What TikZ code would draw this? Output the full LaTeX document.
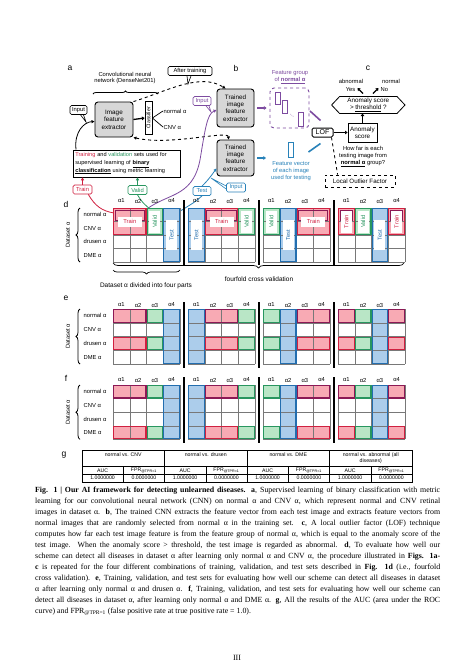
\documentclass[tikz,border=0pt]{standalone}
\usepackage{fontspec}
\setmainfont{Liberation Sans}
\newfontfamily\capserif{Liberation Serif}
\usetikzlibrary{decorations.pathreplacing,arrows.meta}
\definecolor{tred}{RGB}{208,32,64}
\definecolor{tmag}{RGB}{140,25,85}
\definecolor{tpink}{RGB}{248,170,180}
\definecolor{tgreen}{RGB}{40,150,95}
\definecolor{tlgreen}{RGB}{185,230,198}
\definecolor{tblue}{RGB}{35,110,175}
\definecolor{tlblue}{RGB}{172,205,235}
\definecolor{tpurple}{RGB}{125,75,160}
\definecolor{ttest}{RGB}{40,130,185}
\definecolor{tgray}{RGB}{215,215,215}
\definecolor{gridc}{RGB}{120,120,120}

\newcommand\bfillx[7]{\fill[#6] ({113+75*#1+16.75*(#2-1)},{\gy+\gh*(#4-1)}) rectangle ++({16.75*#3},{\gh*#5});}
\newcommand\bdrawx[7]{\draw[#7,line width=1.2pt] ({113+75*#1+16.75*(#2-1)+0.6},{\gy+\gh*(#4-1)+0.6}) rectangle ++({16.75*#3-1.2},{\gh*#5-1.2});}
\newcommand\mdraw[3]{\draw[tmag,line width=1pt] ({113+75*#1+16.75*(#2-1)+2.2},{\gy+2.2}) rectangle ++({16.75*#3-4.4},{\gh-3});}
\newcommand\gridlines{\foreach \ff in {0,1,2,3}{\foreach \cc in {0,...,4}{\draw[gridc,line width=0.5pt] ({113+75*\ff+16.75*\cc},\gy) -- ++(0,{4*\gh});}\foreach \rr in {0,...,4}{\draw[gridc,line width=0.5pt] ({113+75*\ff},{\gy+\gh*\rr}) -- ++(67,0);}}}
\newcommand\alphas[1]{\foreach \ff in {0,1,2,3}{\foreach \cc in {1,...,4}{\node[lbl] at ({113+75*\ff+16.75*(\cc-0.5)},#1) {α\cc};}}}
\newcommand\seps[2]{\foreach \ff in {1,2,3}{\draw[line width=1.6pt] ({109+75*\ff},#1) -- ({109+75*\ff},#2);}}
\newcommand\rowlabels{\foreach \rr/\rname in {1/normal α,2/CNV α,3/drusen α,4/DME α}{\node[lbl,anchor=west] at (83,{\gy+\gh*(\rr-0.5)}) {\rname};}
 \draw[decorate,decoration={brace,amplitude=4pt},line width=0.8pt] (80,{\gy+4*\gh}) -- (80,\gy);
 \node[lbl,rotate=90] at (68,{\gy+2*\gh}) {Dataset α};}
\newcommand\tlab[6]{\node[dlab,#5] at ({113+75*#1+16.75*(#2-1)+8.375*#3},{\gy+\gh*#4}) {#6};}
\newcommand\efpattern[1]{%
 \blk{0}{1}{2}{1}{1}{tpink}{tmag} \blk{0}{1}{2}{#1}{1}{tpink}{tred}
 \blk{0}{3}{1}{1}{1}{tlgreen}{tgreen} \blk{0}{3}{1}{#1}{1}{tlgreen}{tgreen}
 \blk{0}{4}{1}{1}{4}{tlblue}{tblue}
 \blk{1}{1}{1}{1}{4}{tlblue}{tblue}
 \blk{1}{2}{2}{1}{1}{tpink}{tmag} \blk{1}{2}{2}{#1}{1}{tpink}{tred}
 \blk{1}{4}{1}{1}{1}{tlgreen}{tgreen} \blk{1}{4}{1}{#1}{1}{tlgreen}{tgreen}
 \blk{2}{1}{1}{1}{1}{tlgreen}{tgreen} \blk{2}{1}{1}{#1}{1}{tlgreen}{tgreen}
 \blk{2}{2}{1}{1}{4}{tlblue}{tblue}
 \blk{2}{3}{2}{1}{1}{tpink}{tmag} \blk{2}{3}{2}{#1}{1}{tpink}{tred}
 \blk{3}{1}{1}{1}{1}{tpink}{tmag} \blk{3}{1}{1}{#1}{1}{tpink}{tred}
 \blk{3}{2}{1}{1}{1}{tlgreen}{tgreen} \blk{3}{2}{1}{#1}{1}{tlgreen}{tgreen}
 \blk{3}{3}{1}{1}{4}{tlblue}{tblue}
 \blk{3}{4}{1}{1}{1}{tpink}{tmag} \blk{3}{4}{1}{#1}{1}{tpink}{tred}}
\newcommand\dpattern{%
 \blk{0}{1}{2}{1}{2}{tpink}{tred} \blk{0}{3}{1}{1}{2}{tlgreen}{tgreen} \blk{0}{4}{1}{1}{4}{tlblue}{tblue}
 \blk{1}{1}{1}{1}{4}{tlblue}{tblue} \blk{1}{2}{2}{1}{2}{tpink}{tred} \blk{1}{4}{1}{1}{2}{tlgreen}{tgreen}
 \blk{2}{1}{1}{1}{2}{tlgreen}{tgreen} \blk{2}{2}{1}{1}{4}{tlblue}{tblue} \blk{2}{3}{2}{1}{2}{tpink}{tred}
 \blk{3}{1}{1}{1}{2}{tpink}{tred} \blk{3}{2}{1}{1}{2}{tlgreen}{tgreen} \blk{3}{3}{1}{1}{4}{tlblue}{tblue} \blk{3}{4}{1}{1}{2}{tpink}{tred}}

\begin{document}
\begin{tikzpicture}[x=1pt,y=-1pt,
 lbl/.style={inner sep=0.5pt,font=\fontsize{5.8}{6.8}\selectfont},
 tlbl/.style={inner sep=0pt,font=\fontsize{5.2}{6.2}\selectfont},
 plet/.style={inner sep=0pt,font=\fontsize{8.5}{9}\selectfont},
 graybox/.style={draw,line width=0.9pt,rounded corners=3pt,fill=tgray,align=center,inner sep=1pt,font=\fontsize{6.3}{7.4}\selectfont},
 callout/.style={draw,line width=0.7pt,rounded corners=1.5pt,fill=white,inner sep=1.2pt,font=\fontsize{5.8}{6.5}\selectfont},
 arr/.style={-{Triangle[length=3pt,width=3pt]}},
 thickarr/.style={line width=1.3pt,-{Triangle[length=2.6pt,width=3.6pt]}},
 dlab/.style={fill=white,inner sep=0pt,font=\fontsize{5.8}{6}\selectfont},
 trh/.style={text=tred,minimum width=24,minimum height=10},
 trv/.style={text=tred,rotate=90,minimum width=22,minimum height=11},
 vl/.style={text=tgreen,rotate=90,minimum width=22,minimum height=11},
 te/.style={text=tblue,rotate=90,minimum width=30,minimum height=11}]
\useasboundingbox (0,0) rectangle (474,670);
\fill[white] (0,0) rectangle (474,670);

% panel letters
\node[plet] (pa) at (70,68) {a};
\node[plet] (pb) at (236,68) {b};
\node[plet] (pc) at (368,68) {c};
\node[plet] (pd) at (66,204) {d};
\node[plet] (pe) at (66,298) {e};
\node[plet] (pf) at (66,378) {f};
\node[plet] (pg) at (64,455) {g};

% ---------- panel a ----------
\node[lbl,align=center] (cnn) at (125,78) {Convolutional neural\\network (DenseNet201)};
\draw[decorate,decoration={brace,amplitude=3pt},line width=0.8pt] (93,94) -- (158,94);
\node[callout,minimum width=44,minimum height=9] (aft) at (190,71) {After training};
\coordinate (aftp) at (188,84);
\draw[line width=0.6pt] ([xshift=-3pt]aft.south) -- (aftp) -- ([xshift=1pt]aft.south);
\node[graybox,minimum width=38,minimum height=35] (ext) at (114,119.5) {Image\\feature\\extractor};
\node[draw,line width=0.8pt,minimum width=7,minimum height=33,inner sep=0pt] (cls) at (148.5,118) {};
\node[inner sep=0pt,rotate=90,font=\fontsize{5.3}{6}\selectfont] (clst) at (cls) {Classifier};
\draw[thickarr] (ext.east) -- (cls.west);
\node[lbl,anchor=west] (na) at (163,111) {normal α};
\node[lbl,anchor=west] (ca) at (163,127) {CNV α};
\draw[line width=0.7pt] (cls.east) -- (na.west);
\draw[line width=0.7pt] (cls.east) -- (ca.west);
\node[callout,minimum width=17,minimum height=9] (in1) at (78.5,110) {Input};
\coordinate (in1p) at (86,122);
\draw[line width=0.6pt] ([xshift=2pt]in1.south) -- (in1p) -- ([xshift=5pt]in1.south);

\node[draw,line width=0.8pt,align=left,inner sep=2pt,text width=103,minimum height=27,anchor=north west,font=\fontsize{5.6}{7.8}\selectfont] (tb) at (73,149.5) {\textcolor{tred}{Training} and \textcolor{tgreen}{validation} sets used for\\supervised learning of \textbf{\underline{binary}}\\\textbf{\underline{classification}} using metric learning};
\draw[arr,line width=0.8pt] ([xshift=3pt]tb.north west) .. controls (74,132) and (84,122) .. ([yshift=-2pt]ext.west);

\node[callout,draw=tred,text=tred,minimum width=19,minimum height=9] (trn) at (82.5,189.5) {Train};
\draw[arr,tred,line width=0.8pt] (trn.north) -- (trn.north |- tb.south);
\node[callout,draw=tgreen,text=tgreen,minimum width=19,minimum height=9] (vld) at (137.5,190) {Valid};
\draw[arr,tgreen,line width=0.8pt] (vld.north) -- (vld.north |- tb.south);
\node[callout,draw=ttest,text=ttest,minimum width=18,minimum height=9] (tst) at (202,191) {Test};

% ---------- panel b ----------
\node[graybox,minimum width=37,minimum height=38] (tr1) at (235.5,108) {Trained\\image\\feature\\extractor};
\node[graybox,minimum width=37,minimum height=36] (tr2) at (235.5,158) {Trained\\image\\feature\\extractor};
\draw[dashed,line width=0.9pt,arr] (ext.north east) .. controls (165,92) and (200,72) .. ([xshift=9pt]tr1.north west);
\draw[dashed,line width=0.9pt,{Triangle[length=3pt,width=3pt]}-{Triangle[length=3pt,width=3pt]}] (ext.south east) .. controls (170,146) and (228,130) .. ([xshift=12pt]tr2.north west);

\draw[arr,ttest,line width=0.8pt] (tst.north) .. controls (208,180) .. ([yshift=8pt]tr2.south west);
\node[callout,draw=ttest,text=ttest,minimum width=19,minimum height=9] (in3) at (236,187.5) {Input};
\coordinate (in3p) at (211,178);
\draw[ttest,line width=0.6pt] ([yshift=1.5pt]in3.west) -- (in3p) -- ([yshift=-1.5pt]in3.west);

\node[callout,draw=tpurple,text=tpurple,minimum width=18,minimum height=9] (in2) at (202,101) {Input};
\coordinate (in2p) at (211,112);
\draw[tpurple,line width=0.6pt] ([xshift=4pt]in2.south) -- (in2p) -- ([xshift=7pt]in2.south);
\coordinate (dnorm) at (142,213);
\draw[arr,tpurple,line width=0.8pt] (dnorm) .. controls (165,192) and (192,200) .. (200,160) .. controls (205,130) and (207,114) .. ([yshift=-2pt]tr1.west);

\coordinate (dtr) at (114,213);
\coordinate (dva) at (152,211);
\coordinate (dte) at (177,213);
\draw[tred,line width=0.8pt] (trn.-40) .. controls (95,206) and (102,211) .. (dtr);
\draw[tgreen,line width=0.8pt] (vld.south) .. controls (142,202) .. (dva);
\draw[ttest,line width=0.8pt] (tst.south) .. controls (195,202) .. (dte);

\node[draw=tpurple,dashed,line width=0.9pt,rounded corners=4pt,minimum width=39,minimum height=40] (fg) at (289.5,108) {};
\draw[thickarr,tpurple] ([xshift=3pt]tr1.east) -- ([xshift=-3pt]fg.west);
\node[lbl,text=tpurple,align=center] (fgt) at (290,77) {Feature group\\of \textbf{\underline{normal α}}};
\node[draw=tpurple,line width=0.7pt,minimum width=5,minimum height=12,inner sep=0pt] (b1) at (277.5,98) {};
\node[draw=tpurple,line width=0.7pt,minimum width=5,minimum height=13,inner sep=0pt] (b2) at (284.5,106.5) {};
\node[draw=tpurple,line width=0.7pt,minimum width=5,minimum height=14,inner sep=0pt] (b3) at (300.5,119) {};
\node[lbl,text=tpurple,rotate=-35] (bd) at (292,116) {...};

\draw[thickarr,ttest] ([xshift=3pt]tr2.east) -- (266,158);
\node[draw=ttest,line width=0.8pt,minimum width=5,minimum height=15,inner sep=0pt] (fv) at (290.5,149.5) {};
\node[lbl,text=ttest,align=center] (fvt) at (291,171) {Feature vector\\of each image\\used for testing};

% ---------- panel c ----------
\node[draw,line width=1pt,rounded corners=1.5pt,minimum width=21,minimum height=9,inner sep=0pt,font=\fontsize{7}{7}\selectfont] (lof) at (322.5,132.5) {LOF};
\coordinate (fgo) at (310,111);
\coordinate (fvo) at (308.5,152);
\draw[tpurple,line width=1.6pt] (fgo) -- ([xshift=-2pt,yshift=7pt]lof.north);
\draw[ttest,line width=1.6pt] (fvo) -- ([xshift=-2pt,yshift=-6pt]lof.south);
\node[draw,line width=0.8pt,minimum width=29,minimum height=19,align=center,inner sep=0pt,font=\fontsize{6.3}{7.4}\selectfont] (as) at (362.5,132.5) {Anomaly\\score};
\draw[thickarr] (lof.east) -- (as.west);
\node[lbl,align=center] (hf) at (363,156.5) {How far is each\\testing image from\\\textbf{\underline{normal α}} group?};
\node[minimum width=73,minimum height=16.6,inner sep=0pt,align=center,font=\fontsize{6.3}{7.2}\selectfont] (hex) at (368.3,105) {Anomaly score\\> \underline{threshold} ?};
\draw[line width=0.8pt] (hex.west) -- ([xshift=8pt]hex.north west) -- ([xshift=-8pt]hex.north east) -- (hex.east) -- ([xshift=-8pt]hex.south east) -- ([xshift=8pt]hex.south west) -- cycle;
\draw[thickarr] (as.north) -- (as.north |- hex.south);
\node[lbl,anchor=east] (yes) at (356,90) {Yes};
\node[lbl,anchor=west] (no) at (380,90) {No};
\coordinate (ya) at (363,93.5);
\coordinate (yb) at (357.5,88);
\coordinate (na2) at (373,93.5);
\coordinate (nb) at (378.5,88);
\draw[thickarr] (ya) -- (yb);
\draw[thickarr] (na2) -- (nb);
\node[lbl] (abn) at (351,81) {abnormal};
\node[lbl] (nrm) at (391,81) {normal};
\node[draw,dashed,line width=0.8pt,minimum width=70,minimum height=12,inner sep=0pt,font=\fontsize{6.2}{7}\selectfont] (lofb) at (360,181) {Local Outlier Factor};
\draw[dashed,line width=0.8pt] ([xshift=-2pt]lof.south east) -- ([xshift=13pt]lofb.north west);

% ---------- panel d ----------
\def\gy{208}\def\gh{13.5}
\alphas{201}
\let\blk\bfillx \dpattern
\gridlines
\let\blk\bdrawx \dpattern
\mdraw{0}{1}{2} \mdraw{1}{2}{2} \mdraw{2}{3}{2} \mdraw{3}{1}{1} \mdraw{3}{4}{1}
\tlab{0}{1}{2}{1}{trh}{Train} \tlab{0}{3}{1}{1}{vl}{Valid} \tlab{0}{4}{1}{2}{te}{Test}
\tlab{1}{1}{1}{2}{te}{Test} \tlab{1}{2}{2}{1}{trh}{Train} \tlab{1}{4}{1}{1}{vl}{Valid}
\tlab{2}{1}{1}{1}{vl}{Valid} \tlab{2}{2}{1}{2}{te}{Test} \tlab{2}{3}{2}{1}{trh}{Train}
\tlab{3}{1}{1}{1}{trv}{Train} \tlab{3}{2}{1}{1}{vl}{Valid} \tlab{3}{3}{1}{2}{te}{Test} \tlab{3}{4}{1}{1}{trv}{Train}
\seps{200}{265}
\rowlabels
\draw[decorate,decoration={brace,amplitude=5pt,mirror},line width=0.7pt] (113,263) -- (404,263);
\draw[decorate,decoration={brace,amplitude=4pt,mirror},line width=0.7pt] (113,270) -- (180,270);
\node[lbl,font=\fontsize{6.5}{7}\selectfont] (dtx) at (146,286) {Dataset α divided into four parts};
\node[lbl,font=\fontsize{6.5}{7}\selectfont] (ftx) at (259,279) {fourfold cross validation};

% ---------- panel e ----------
\def\gy{309}\def\gh{13.75}
\alphas{305}
\let\blk\bfillx \efpattern{3}
\gridlines
\let\blk\bdrawx \efpattern{3}
\seps{302}{368}
\rowlabels

% ---------- panel f ----------
\def\gy{385}\def\gh{13.6}
\alphas{380}
\let\blk\bfillx \efpattern{4}
\gridlines
\let\blk\bdrawx \efpattern{4}
\seps{377}{443}
\rowlabels

% ---------- panel g ----------
\draw[line width=0.5pt] (82,450) rectangle (412,482);
\draw[line width=0.5pt] (82,466.5) -- (412,466.5);
\draw[line width=0.5pt] (82,474) -- (412,474);
\foreach \i in {2,4,6} \draw[line width=0.5pt] ({82+41.25*\i},450) -- ({82+41.25*\i},482);
\foreach \i in {1,3,5,7} \draw[line width=0.5pt] ({82+41.25*\i},466.5) -- ({82+41.25*\i},482);
\foreach \i/\h in {0/normal vs. CNV,1/normal vs. drusen,2/normal vs. DME}{\node[tlbl] at ({82+82.5*\i+41.25},455) {\h};}
\node[tlbl,align=center] (g4) at ({82+82.5*3+41.25},458.5) {normal vs. abnormal (all\\diseases)};
\foreach \i in {0,...,3}{
 \node[tlbl] at ({82+82.5*\i+20.6},470.3) {AUC};
 \node[tlbl] at ({82+82.5*\i+61.9},470.3) {FPR\textsubscript{@TPR=1}};
 \node[tlbl] at ({82+82.5*\i+20.6},478.2) {1.0000000};
 \node[tlbl] at ({82+82.5*\i+61.9},478.2) {0.0000000};}

% ---------- caption ----------
\node[anchor=north west,text width=405,align=justify,inner sep=0pt,font=\capserif\fontsize{7.85}{11}\selectfont] (cap) at (35,486.5) {\textbf{Fig. 1 | Our AI framework for detecting unlearned diseases. a}, Supervised learning of binary classification with metric\linebreak
learning for our convolutional neural network (CNN) on normal α and CNV α, which represent normal and CNV retinal\linebreak
images in dataset α. \textbf{b}, The trained CNN extracts the feature vector from each test image and extracts feature vectors from\linebreak
normal images that are randomly selected from normal α in the training set. \textbf{c}, A local outlier factor (LOF) technique\linebreak
computes how far each test image feature is from the feature group of normal α, which is equal to the anomaly score of the\linebreak
test image. When the anomaly score > threshold, the test image is regarded as abnormal. \textbf{d}, To evaluate how well our\linebreak
scheme can detect all diseases in dataset α after learning only normal α and CNV α, the procedure illustrated in \textbf{Figs. 1a-}\linebreak
\textbf{c} is repeated for the four different combinations of training, validation, and test sets described in \textbf{Fig. 1d} (i.e., fourfold\linebreak
cross validation). \textbf{e}, Training, validation, and test sets for evaluating how well our scheme can detect all diseases in dataset\linebreak
α after learning only normal α and drusen α. \textbf{f}, Training, validation, and test sets for evaluating how well our scheme can\linebreak
detect all diseases in dataset α, after learning only normal α and DME α. \textbf{g}, All the results of the AUC (area under the ROC\linebreak
curve) and FPR\textsubscript{@TPR=1} (false positive rate at true positive rate = 1.0).};
\node[inner sep=0pt,font=\capserif\fontsize{8}{9}\selectfont] (pnum) at (237,658) {III};
\end{tikzpicture}
\end{document}
